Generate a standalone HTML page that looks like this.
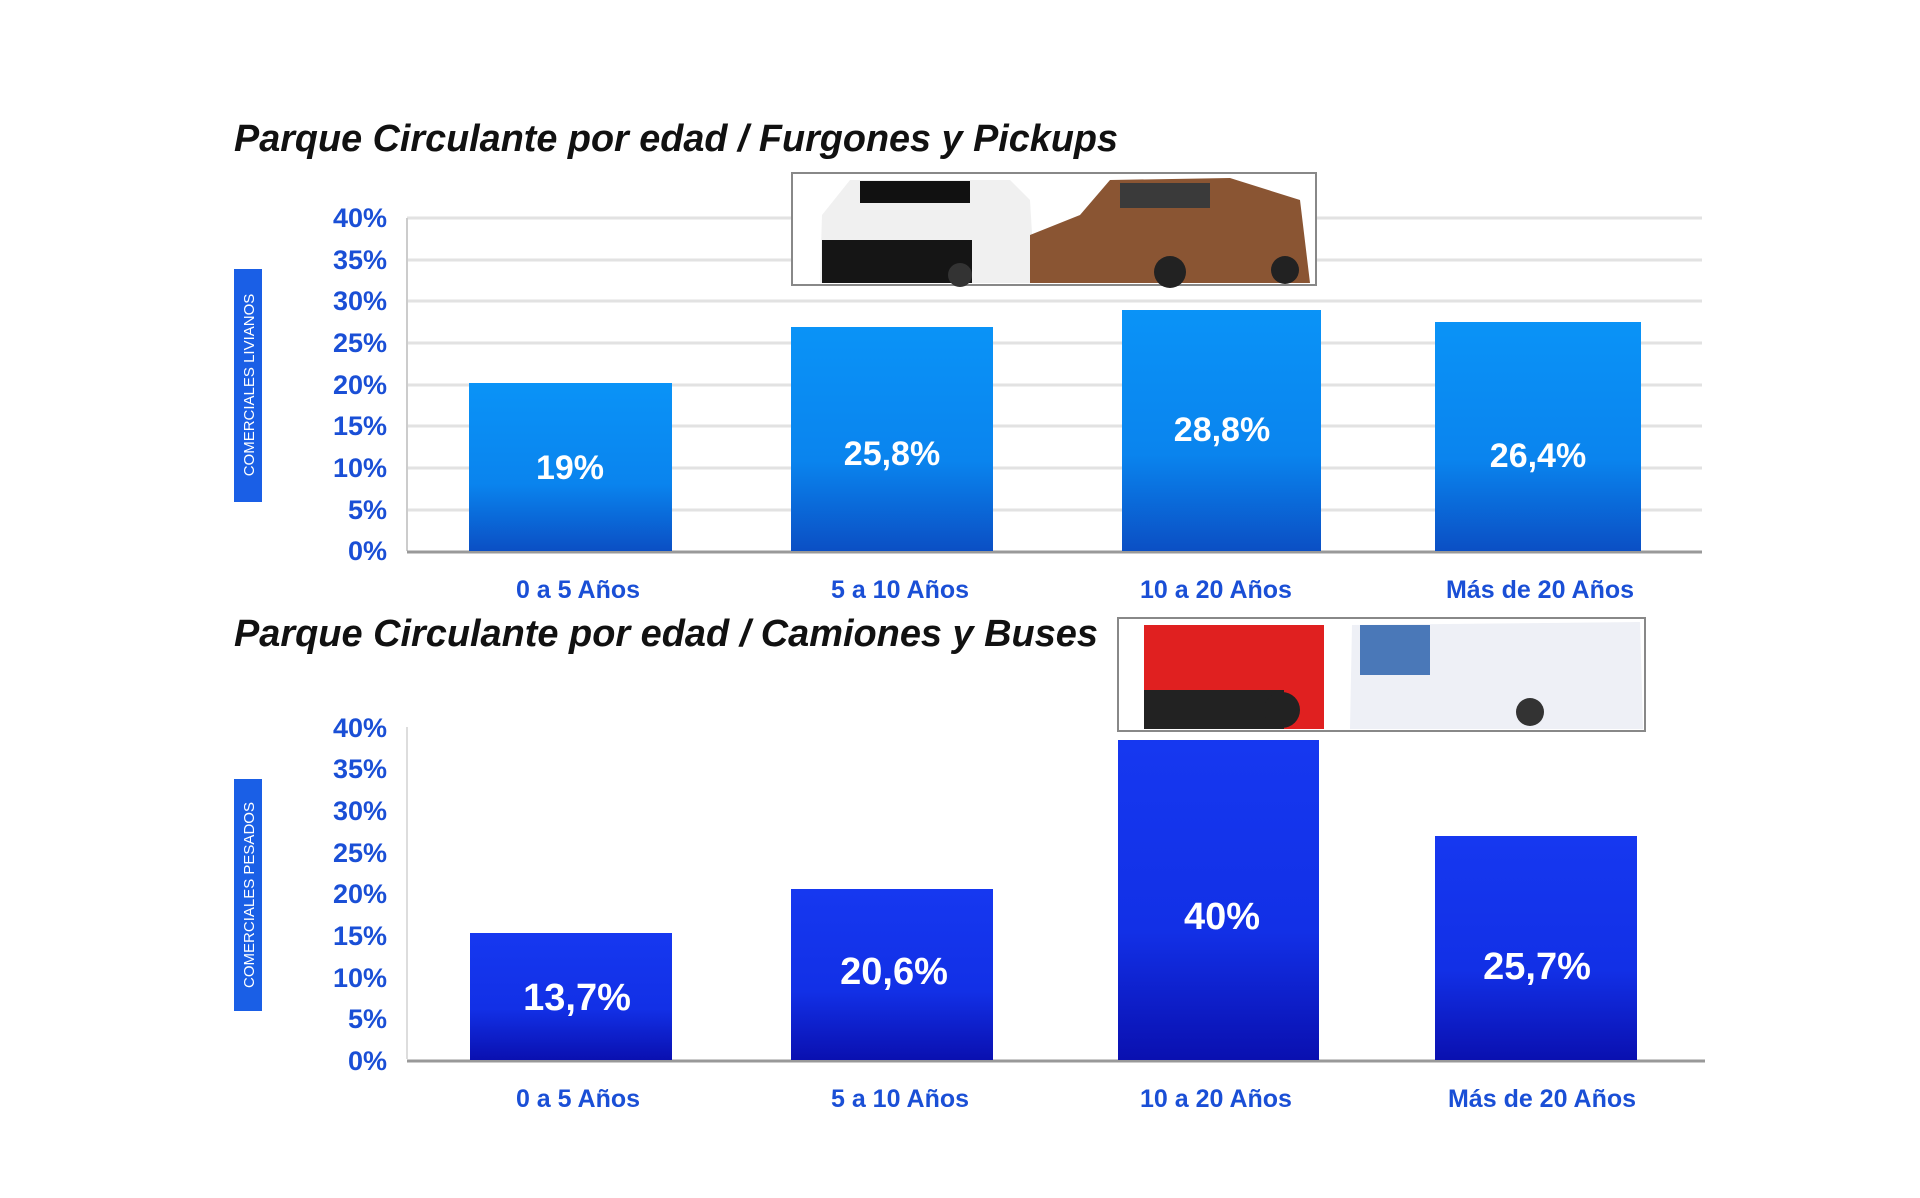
<!DOCTYPE html>
<html><head><meta charset="utf-8"><style>
html,body{margin:0;padding:0;background:#fff;}
svg{display:block;}
text{font-family:"Liberation Sans Narrow","Liberation Sans",sans-serif;font-weight:bold;}
.t{font-family:"Liberation Sans",sans-serif;font-style:italic;font-size:38px;fill:#111;}
.yl{fill:#1a4fd6;font-size:27px;text-anchor:end;}
.xl{fill:#1a4fd6;font-size:25px;text-anchor:middle;}
.bl{fill:#fff;font-family:"Liberation Sans",sans-serif;font-size:34px;text-anchor:middle;}
.bl2{fill:#fff;font-family:"Liberation Sans",sans-serif;font-size:38px;text-anchor:middle;}
.vl{fill:#fff;font-family:"Liberation Sans",sans-serif;font-weight:normal;font-size:15px;text-anchor:middle;}
</style></head><body>
<svg width="1920" height="1198" viewBox="0 0 1920 1198" xmlns="http://www.w3.org/2000/svg">
<defs>
<linearGradient id="g1" x1="0" y1="0" x2="0" y2="1">
<stop offset="0" stop-color="#0a93f7"/><stop offset="0.6" stop-color="#0a84ee"/><stop offset="1" stop-color="#0b4fc4"/></linearGradient>
<linearGradient id="g2" x1="0" y1="0" x2="0" y2="1">
<stop offset="0" stop-color="#1638f0"/><stop offset="0.6" stop-color="#1230e6"/><stop offset="1" stop-color="#0a10b0"/></linearGradient>
</defs>
<rect width="1920" height="1198" fill="#fff"/>
<text class="t" x="234" y="151" textLength="884" lengthAdjust="spacingAndGlyphs">Parque Circulante por edad / Furgones y Pickups</text>
<g stroke="#e2e2e2" stroke-width="3">
<line x1="407" y1="218" x2="1702" y2="218"/><line x1="407" y1="260" x2="1702" y2="260"/>
<line x1="407" y1="301" x2="1702" y2="301"/><line x1="407" y1="343" x2="1702" y2="343"/>
<line x1="407" y1="385" x2="1702" y2="385"/><line x1="407" y1="426" x2="1702" y2="426"/>
<line x1="407" y1="468" x2="1702" y2="468"/><line x1="407" y1="510" x2="1702" y2="510"/>
</g>
<line x1="407" y1="218" x2="407" y2="551" stroke="#ccc" stroke-width="2"/>
<line x1="407" y1="552" x2="1702" y2="552" stroke="#999" stroke-width="3"/>
<g class="yl">
<text x="387" y="227">40%</text><text x="387" y="269">35%</text><text x="387" y="310">30%</text>
<text x="387" y="352">25%</text><text x="387" y="394">20%</text><text x="387" y="435">15%</text>
<text x="387" y="477">10%</text><text x="387" y="519">5%</text><text x="387" y="560">0%</text>
</g>
<rect x="234" y="269" width="28" height="233" fill="#1a5fe6"/>
<text class="vl" transform="translate(254,385) rotate(-90)">COMERCIALES LIVIANOS</text>
<rect x="469" y="383" width="203" height="168" fill="url(#g1)"/>
<rect x="791" y="327" width="202" height="224" fill="url(#g1)"/>
<rect x="1122" y="310" width="199" height="241" fill="url(#g1)"/>
<rect x="1435" y="322" width="206" height="229" fill="url(#g1)"/>
<text class="bl" x="570" y="479">19%</text>
<text class="bl" x="892" y="465">25,8%</text>
<text class="bl" x="1222" y="441">28,8%</text>
<text class="bl" x="1538" y="467">26,4%</text>
<g class="xl"><text x="578" y="598">0 a 5 Años</text><text x="900" y="598">5 a 10 Años</text>
<text x="1216" y="598">10 a 20 Años</text><text x="1540" y="598">Más de 20 Años</text></g>
<rect x="792" y="173" width="524" height="112" fill="#fff" stroke="#888" stroke-width="2"/>
<path d="M820 283 L822 215 L850 180 L1010 180 L1030 200 L1035 283 Z" fill="#f0f0f0"/>
<rect x="860" y="181" width="110" height="22" fill="#111"/>
<rect x="822" y="240" width="150" height="43" fill="#151515"/>
<path d="M1030 283 L1030 235 L1080 215 L1110 180 L1230 178 L1300 200 L1310 283 Z" fill="#8a5533"/>
<rect x="1120" y="183" width="90" height="25" fill="#3a3a3a"/>
<circle cx="1170" cy="272" r="16" fill="#222"/><circle cx="1285" cy="270" r="14" fill="#222"/>
<circle cx="960" cy="275" r="12" fill="#333"/>
<text class="t" x="234" y="646" textLength="864" lengthAdjust="spacingAndGlyphs">Parque Circulante por edad / Camiones y Buses</text>
<line x1="407" y1="727" x2="407" y2="1059" stroke="#ddd" stroke-width="2"/>
<line x1="407" y1="1061" x2="1705" y2="1061" stroke="#999" stroke-width="3"/>
<g class="yl">
<text x="387" y="737">40%</text><text x="387" y="778">35%</text><text x="387" y="820">30%</text>
<text x="387" y="862">25%</text><text x="387" y="903">20%</text><text x="387" y="945">15%</text>
<text x="387" y="987">10%</text><text x="387" y="1028">5%</text><text x="387" y="1070">0%</text>
</g>
<rect x="234" y="779" width="28" height="232" fill="#1a5fe6"/>
<text class="vl" transform="translate(254,895) rotate(-90)">COMERCIALES PESADOS</text>
<rect x="470" y="933" width="202" height="127" fill="url(#g2)"/>
<rect x="791" y="889" width="202" height="171" fill="url(#g2)"/>
<rect x="1118" y="740" width="201" height="320" fill="url(#g2)"/>
<rect x="1435" y="836" width="202" height="224" fill="url(#g2)"/>
<text class="bl2" x="577" y="1010">13,7%</text>
<text class="bl2" x="894" y="984">20,6%</text>
<text class="bl2" x="1222" y="929">40%</text>
<text class="bl2" x="1537" y="979">25,7%</text>
<g class="xl"><text x="578" y="1107">0 a 5 Años</text><text x="900" y="1107">5 a 10 Años</text>
<text x="1216" y="1107">10 a 20 Años</text><text x="1542" y="1107">Más de 20 Años</text></g>
<rect x="1118" y="618" width="527" height="113" fill="#fff" stroke="#888" stroke-width="2"/>
<rect x="1144" y="625" width="180" height="104" fill="#e02020"/>
<rect x="1144" y="690" width="140" height="39" fill="#222"/>
<circle cx="1282" cy="710" r="18" fill="#222"/>
<path d="M1350 729 L1352 625 L1640 622 L1643 729 Z" fill="#eef0f6"/>
<rect x="1360" y="625" width="70" height="50" fill="#4a78b8"/>
<circle cx="1530" cy="712" r="14" fill="#333"/>
</svg>
</body></html>
